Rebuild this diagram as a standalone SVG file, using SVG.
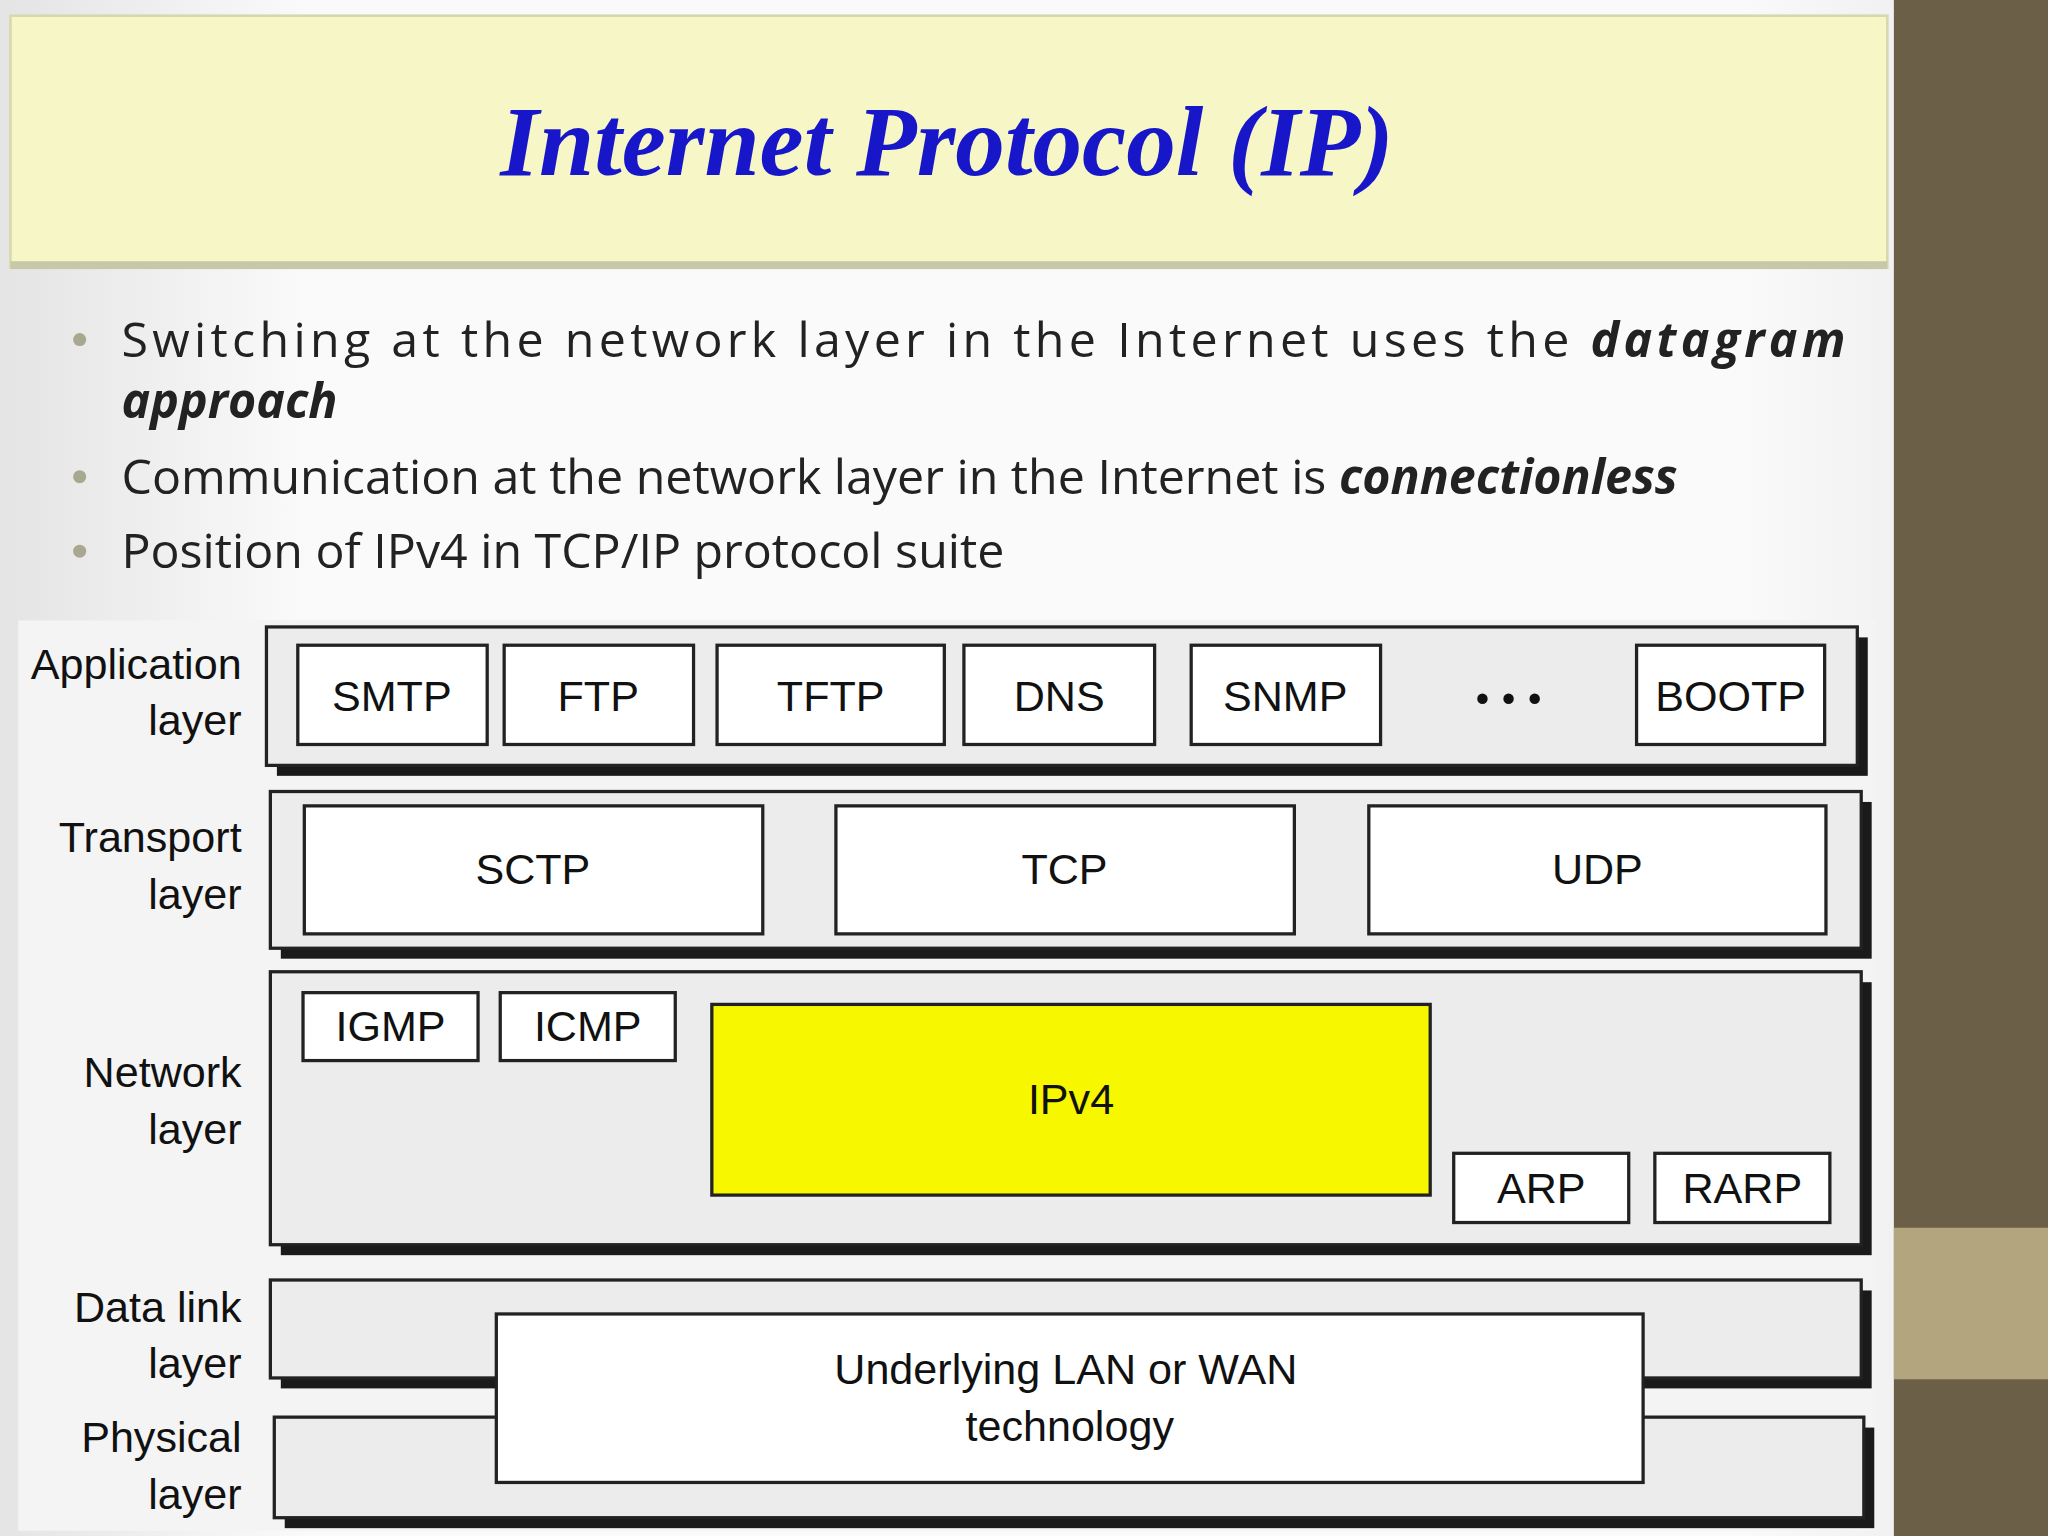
<svg xmlns="http://www.w3.org/2000/svg" width="2048" height="1536" viewBox="0 0 2048 1536">
<defs>
<linearGradient id="bg" x1="0" y1="0" x2="1" y2="0"><stop offset="0" stop-color="#e4e4e4"/><stop offset="0.15" stop-color="#fafafa"/><stop offset="0.85" stop-color="#fafafa"/><stop offset="1" stop-color="#e8e8e8"/></linearGradient>
<style>
.lay{fill:#ececec;stroke:#222;stroke-width:2.5}
.sh{fill:#1a1a1a}
.bx{fill:#fff;stroke:#222;stroke-width:2.5}
.bt{font-family:"Liberation Sans",Arial,sans-serif;font-size:33px;fill:#111;text-anchor:middle}
.lb{font-family:"Liberation Sans",Arial,sans-serif;font-size:33px;fill:#111;text-anchor:end}
.bl{font-family:"Open Sans","Noto Sans",sans-serif;font-size:37px;fill:#222}
</style>
</defs>
<rect width="2048" height="1536" fill="url(#bg)"/>
<g transform="scale(1.30612)">
<rect x="1450" y="0" width="118" height="1176" fill="#6b5f48"/>
<rect x="1450" y="940" width="118" height="116" fill="#b3a67e"/>
<g id="title">
<rect x="8" y="12" width="1437" height="193" fill="#f6f6c6" stroke="#d8d8b0" stroke-width="2"/>
<rect x="8" y="200" width="1437" height="6" fill="#c8c8a8"/>
<text x="725" y="134" font-family="Liberation Serif,serif" font-style="italic" font-weight="bold" font-size="76" fill="#1717c9" text-anchor="middle">Internet Protocol (IP)</text>
</g>
<g id="bullets">
<circle cx="61" cy="260" r="5" fill="#a8a890"/><circle cx="61" cy="365" r="5" fill="#a8a890"/><circle cx="61" cy="422" r="5" fill="#a8a890"/>
<text class="bl" x="93" y="273" textLength="1320" lengthAdjust="spacing">Switching at the network layer in the Internet uses the <tspan font-weight="bold" font-style="italic">datagram</tspan></text>
<text class="bl" x="93" y="320" font-weight="bold" font-style="italic">approach</text>
<text class="bl" x="93" y="378">Communication at the network layer in the Internet is <tspan font-weight="bold" font-style="italic">connectionless</tspan></text>
<text class="bl" x="93" y="435">Position of IPv4 in TCP/IP protocol suite</text>
</g>
<rect x="14" y="475" width="1422" height="697" fill="#f4f4f4"/>
<g id="labels">
<text class="lb" x="185" y="520">Application</text><text class="lb" x="185" y="563">layer</text>
<text class="lb" x="185" y="652">Transport</text><text class="lb" x="185" y="696">layer</text>
<text class="lb" x="185" y="832">Network</text><text class="lb" x="185" y="876">layer</text>
<text class="lb" x="185" y="1012">Data link</text><text class="lb" x="185" y="1055">layer</text>
<text class="lb" x="185" y="1112">Physical</text><text class="lb" x="185" y="1155">layer</text>
</g>
<g id="application">
<rect class="sh" x="212" y="488" width="1218" height="106"/><rect class="lay" x="204" y="480" width="1218" height="106"/>
<rect class="bx" x="228" y="494" width="145" height="76"/><text class="bt" x="300" y="544">SMTP</text>
<rect class="bx" x="386" y="494" width="145" height="76"/><text class="bt" x="458" y="544">FTP</text>
<rect class="bx" x="549" y="494" width="174" height="76"/><text class="bt" x="636" y="544">TFTP</text>
<rect class="bx" x="738" y="494" width="146" height="76"/><text class="bt" x="811" y="544">DNS</text>
<rect class="bx" x="912" y="494" width="145" height="76"/><text class="bt" x="984" y="544">SNMP</text>
<circle cx="1135" cy="535" r="4" fill="#111"/><circle cx="1155" cy="535" r="4" fill="#111"/><circle cx="1175" cy="535" r="4" fill="#111"/>
<rect class="bx" x="1253" y="494" width="144" height="76"/><text class="bt" x="1325" y="544">BOOTP</text>
</g>
<g id="transport">
<rect class="sh" x="215" y="614" width="1218" height="120"/><rect class="lay" x="207" y="606" width="1218" height="120"/>
<rect class="bx" x="233" y="617" width="351" height="98"/><text class="bt" x="408" y="677">SCTP</text>
<rect class="bx" x="640" y="617" width="351" height="98"/><text class="bt" x="815" y="677">TCP</text>
<rect class="bx" x="1048" y="617" width="350" height="98"/><text class="bt" x="1223" y="677">UDP</text>
</g>
<g id="network">
<rect class="sh" x="215" y="752" width="1218" height="209"/><rect class="lay" x="207" y="744" width="1218" height="209"/>
<rect class="bx" x="232" y="760" width="134" height="52"/><text class="bt" x="299" y="797">IGMP</text>
<rect class="bx" x="383" y="760" width="134" height="52"/><text class="bt" x="450" y="797">ICMP</text>
<rect x="545" y="769" width="550" height="146" fill="#f7f700" stroke="#222" stroke-width="2.5"/><text class="bt" x="820" y="853" font-size="42">IPv4</text>
<rect class="bx" x="1113" y="883" width="134" height="53"/><text class="bt" x="1180" y="921">ARP</text>
<rect class="bx" x="1267" y="883" width="134" height="53"/><text class="bt" x="1334" y="921">RARP</text>
</g>
<g id="datalink">
<rect class="sh" x="215" y="988" width="1218" height="75"/><rect class="lay" x="207" y="980" width="1218" height="75"/>
</g>
<g id="physical">
<rect class="sh" x="218" y="1093" width="1217" height="77"/><rect class="lay" x="210" y="1085" width="1217" height="77"/>
</g>
<g id="underlying">
<rect class="bx" x="380" y="1006" width="878" height="129"/>
<text class="bt" x="816" y="1060">Underlying LAN or WAN</text>
<text class="bt" x="819" y="1103">technology</text>
</g>
</g>
</svg>
